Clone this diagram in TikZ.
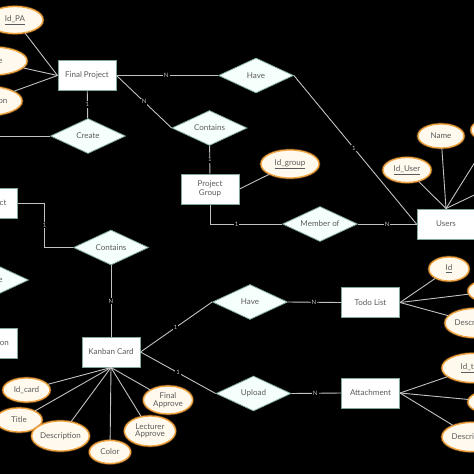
\documentclass[tikz,border=0pt]{standalone}
\usepackage{fontspec}
\setmainfont{Lato}
\usetikzlibrary{shapes.geometric}
\definecolor{txt}{HTML}{5C5C5C}
\definecolor{edgec}{HTML}{C2C2C2}
\definecolor{boxb}{HTML}{7FA898}
\definecolor{dfill}{HTML}{F5FFFB}
\definecolor{efill}{HTML}{FFF9EE}
\definecolor{eborder}{HTML}{F2A541}
\tikzset{
  lbl/.style={text=txt, font=\fontsize{8}{9.5}\selectfont},
  ent/.style={lbl, rectangle, draw=boxb, line width=1pt, fill=white, minimum width=58pt, minimum height=30pt, inner sep=1pt, align=center},
  rel/.style={lbl, diamond, draw=boxb, fill=dfill, line width=0.8pt, minimum width=75pt, minimum height=35pt, aspect=2.14, inner sep=0pt},
  attr/.style={lbl, ellipse, fill=efill, draw=eborder, line width=1.3pt, inner sep=0pt,
    preaction={draw=eborder!70!black, line width=2.8pt, opacity=0.45}},
  conn/.style={draw=edgec, line width=0.9pt},
  card/.style={fill=black, text=edgec, font=\fontsize{6}{7}\selectfont, inner sep=1pt}
}
\begin{document}
\begin{tikzpicture}[x=1pt,y=-1pt]
\fill[black] (0,0) rectangle (474,474);
\useasboundingbox (0,0) rectangle (474,474);
\clip (0,0) rectangle (474,474);
% entities
\node[ent] (fp) at (87,75.5) {Final Project};
\node[ent] (pg) at (210,189) {Project\\Group};
\node[ent] (users) at (446,224) {Users};
\node[ent, minimum width=46pt] (proj) at (-6,203) {Project};
\node[ent] (notif) at (-12,343) {Notification};
\node[ent] (kb) at (111,352) {Kanban Card};
\node[ent] (todo) at (370.5,302.5) {Todo List};
\node[ent] (att) at (370.5,393) {Attachment};
% relations
\node[rel] (create) at (88,136) {Create};
\node[rel] (have1) at (256,75.5) {Have};
\node[rel] (cont1) at (209.5,128) {Contains};
\node[rel] (mem) at (320,224) {Member of};
\node[rel] (cont2) at (111,247.5) {Contains};
\node[rel] (leftrel) at (-9,280) {Create};
\node[rel] (have2) at (250,302) {Have};
\node[rel] (upload) at (253.5,393.5) {Upload};
% attributes
\node[attr, minimum width=56pt, minimum height=27pt] (idpa) at (15,20) {\underline{Id\_PA}};
\node[attr, minimum width=70pt, minimum height=28pt] (fpname) at (-8,61) {Name};
\node[attr, minimum width=70pt, minimum height=29pt] (fpdesc) at (-13,101) {Description};
\node[attr, minimum width=58pt, minimum height=28pt] (idgroup) at (290,164) {\underline{Id\_group}};
\node[attr, minimum width=46pt, minimum height=24pt] (uname) at (441,136) {Name};
\node[attr, minimum width=48pt, minimum height=25pt] (iduser) at (407,170) {\underline{Id\_User}};
\node[attr, minimum width=48pt, minimum height=24pt] (ua3) at (495,130) {Email};
\node[attr, minimum width=50pt, minimum height=24pt] (ua4) at (510,178) {Password};
\node[attr, minimum width=40pt, minimum height=24pt] (tid) at (449,269) {\underline{Id}};
\node[attr, minimum width=54pt, minimum height=24pt] (ttitle) at (495,291) {Title};
\node[attr, minimum width=60pt, minimum height=29pt] (tdesc) at (475,323) {Description};
\node[attr, minimum width=62pt, minimum height=29pt] (aid) at (473,368) {\underline{Id\_task}};
\node[attr, minimum width=54pt, minimum height=24pt] (afile) at (495,402) {File};
\node[attr, minimum width=60pt, minimum height=29pt] (adesc) at (472,437) {Description};
\node[attr, minimum width=47pt, minimum height=24pt] (idcard) at (26.5,390) {Id\_card};
\node[attr, minimum width=46pt, minimum height=24pt] (ktitle) at (19,420) {Title};
\node[attr, minimum width=54pt, minimum height=30pt] (kdesc) at (60.5,436) {Description};
\node[attr, minimum width=41pt, minimum height=23pt] (kcolor) at (110,452) {Color};
\node[attr, minimum width=51pt, minimum height=30pt, align=center] (lect) at (150,431) {Lecturer\\[-2pt]Approve};
\node[attr, minimum width=49pt, minimum height=28pt, align=center] (final) at (168,400) {Final\\[-2pt]Approve};
\coordinate (cl) at (-40,136);
% connectors
\draw[conn] (idpa) -- (fp.west);
\draw[conn] (fpname) -- (fp.west);
\draw[conn] (fpdesc) -- (fp.west);
\draw[conn] (fp) -- node[card,pos=0.5]{1} (create);
\draw[conn] (cl) -- (create.west);
\draw[conn] (fp.east) -- node[card,pos=0.49]{N} (have1.west);
\draw[conn] (have1.east) -- node[card,pos=0.49]{1} (users.west);
\draw[conn] (fp.east) -- node[card,pos=0.5]{N} (cont1.west);
\draw[conn] (cont1) -- node[card,pos=0.5]{1} (pg);
\draw[conn] (pg.east) -- (idgroup);
\draw[conn] (pg.south) |- node[card,pos=0.685]{1} (mem.west);
\draw[conn] (mem.east) -- node[card,pos=0.5]{N} (users.west);
\draw[conn] (uname) -- (users.north);
\draw[conn] (iduser) -- (users.north);
\draw[conn] (ua3) -- (users.north);
\draw[conn] (ua4) -- (users.north);
\draw[conn] (proj.east) -- ++(27,0) |- node[card,pos=0.25]{1} (cont2.west);
\draw[conn] (cont2) -- node[card,pos=0.5]{N} (kb);
\draw[conn] (kb.east) -- node[card,pos=0.49]{1} (have2.west);
\draw[conn] (have2.east) -- node[card,pos=0.49]{N} (todo.west);
\draw[conn] (kb.east) -- node[card,pos=0.5]{1} (upload.west);
\draw[conn] (upload.east) -- node[card,pos=0.48]{N} (att.west);
\draw[conn] (tid) -- (todo.east);
\draw[conn] (ttitle) -- (todo.east);
\draw[conn] (tdesc) -- (todo.east);
\draw[conn] (aid) -- (att.east);
\draw[conn] (afile) -- (att.east);
\draw[conn] (adesc) -- (att.east);
\draw[conn] (idcard) -- (kb.south);
\draw[conn] (ktitle) -- (kb.south);
\draw[conn] (kdesc) -- (kb.south);
\draw[conn] (kcolor) -- (kb.south);
\draw[conn] (lect) -- (kb.south);
\draw[conn] (final) -- (kb.south);
\end{tikzpicture}
\end{document}
